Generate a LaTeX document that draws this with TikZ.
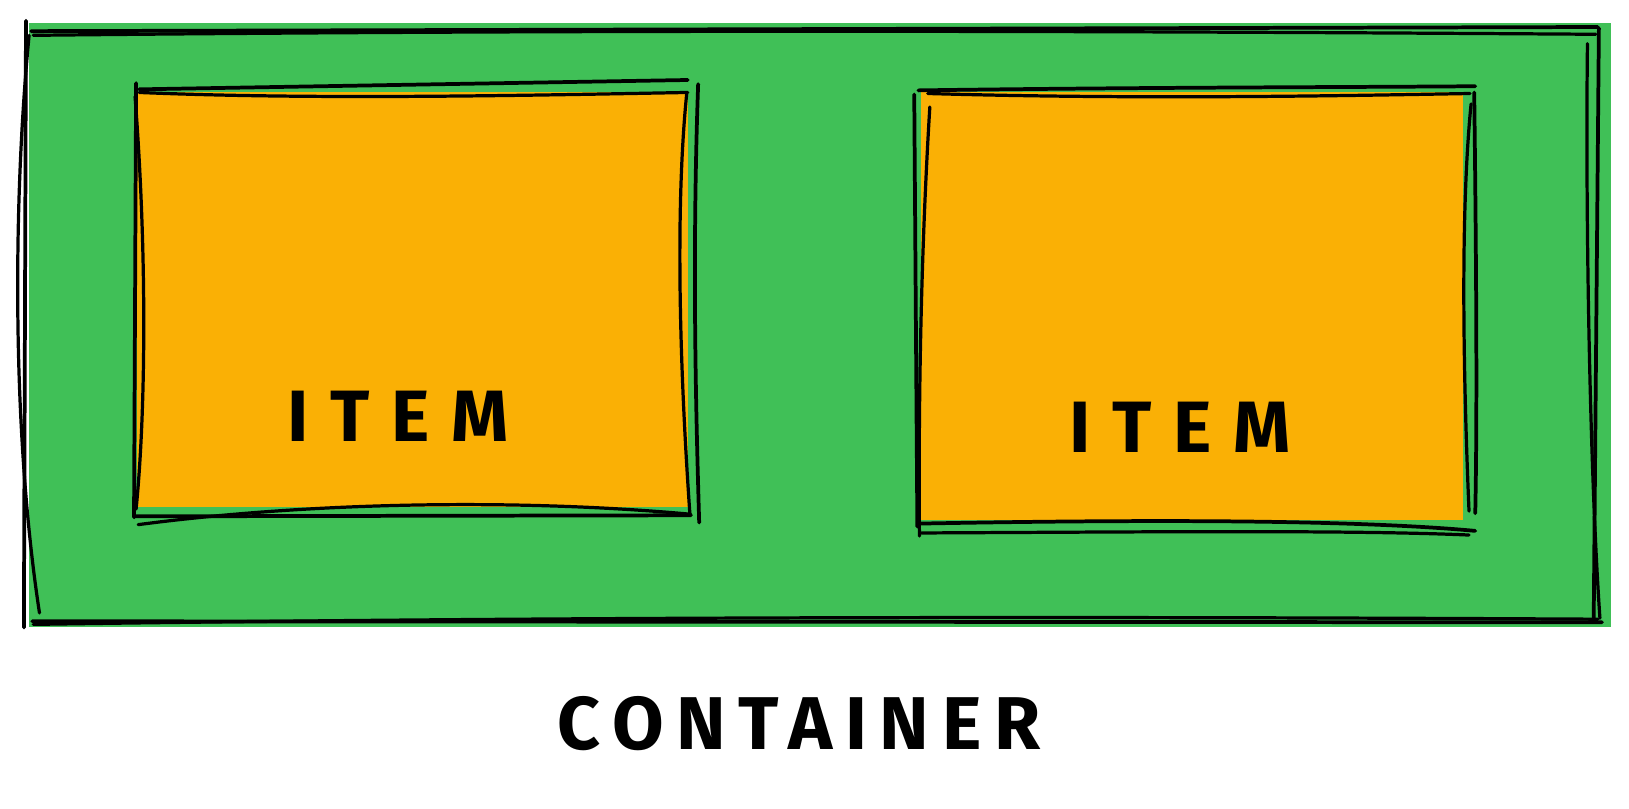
\documentclass[tikz,border=0pt]{standalone}
\usepackage{fontspec}
\setsansfont{Fira Sans}
\newfontfamily\handfont{Fira Sans}[LetterSpace=17]
\usetikzlibrary{positioning}
\definecolor{boxgreen}{HTML}{40C057}
\definecolor{boxorange}{HTML}{FAB005}
\tikzset{
  sketch/.style={draw=black, line width=3.6pt, line cap=round, line join=round},
  thinsketch/.style={sketch, line width=3.1pt},
  containerfill/.style={fill=boxgreen, anchor=north west, inner sep=0pt,
    minimum width=1522pt, minimum height=581pt},
  itemfill/.style={fill=boxorange, anchor=north west, inner sep=0pt},
  sketchlabel/.style={font=\handfont\bfseries\fontsize{72}{72}\selectfont, inner sep=0pt},
  itemlabel/.style={sketchlabel, font=\handfont\bfseries\fontsize{70}{70}\selectfont\addfontfeature{LetterSpace=30}}
}
\begin{document}
\begin{tikzpicture}[x=1pt,y=-1pt]
  \useasboundingbox (0,0) rectangle (1568,778);
  % fills
  \node[containerfill] (container) at (28,22) {};
  \node[itemfill, minimum width=530pt, minimum height=400pt] (itemA) at (132,88) {};
  \node[itemfill, minimum width=522pt, minimum height=412pt] (itemB) at (886,88) {};
  % container outline, each side twice
  \draw[sketch] (30,30) -- (1538,26);
  \draw[thinsketch] (32,34) .. controls (600,28) and (1100,30) .. (1536,33);
  \draw[sketch] (25,20) -- (23,604);
  \draw[thinsketch] (28,34) .. controls (12,200) and (12,420) .. (38,590);
  \draw[sketch] (1539,27) -- (1534,598);
  \draw[thinsketch] (1528,42) .. controls (1526,200) and (1530,450) .. (1540,595);
  \draw[sketch] (31,598) -- (1542,599);
  \draw[thinsketch] (32,601) .. controls (500,594) and (1000,593) .. (1538,596);
  % left item outline
  \draw[sketch] (134,86) -- (662,77);
  \draw[thinsketch] (134,89) .. controls (300,96) and (500,92) .. (662,89);
  \draw[sketch] (131,80) -- (129,498);
  \draw[thinsketch] (130,93) .. controls (142,250) and (140,400) .. (131,490);
  \draw[sketch] (672,81) .. controls (666,250) and (670,400) .. (673,503);
  \draw[thinsketch] (661,90) .. controls (650,200) and (654,350) .. (664,494);
  \draw[sketch] (130,497) -- (665,496);
  \draw[thinsketch] (133,505) .. controls (300,483) and (500,480) .. (665,495);
  % right item outline
  \draw[sketch] (884,87) .. controls (1100,84) and (1300,84) .. (1420,83);
  \draw[thinsketch] (893,90) .. controls (1100,96) and (1300,92) .. (1415,90);
  \draw[sketch] (880,91) -- (883,507);
  \draw[thinsketch] (895,103) .. controls (886,250) and (884,400) .. (885,516);
  \draw[sketch] (1419,89) .. controls (1421,250) and (1422,400) .. (1420,494);
  \draw[thinsketch] (1416,100) .. controls (1406,200) and (1408,350) .. (1414,492);
  \draw[sketch] (884,504) .. controls (1100,500) and (1300,500) .. (1420,511);
  \draw[thinsketch] (887,513) .. controls (1100,512) and (1300,510) .. (1414,515);
  % labels
  \node[itemlabel] (itemAtext) at (383,401) {ITEM};
  \node[itemlabel] (itemBtext) at (1136,411) {ITEM};
  \node[sketchlabel, below=67pt of container, xshift=-20pt] (containertext) {CONTAINER};
\end{tikzpicture}
\end{document}
